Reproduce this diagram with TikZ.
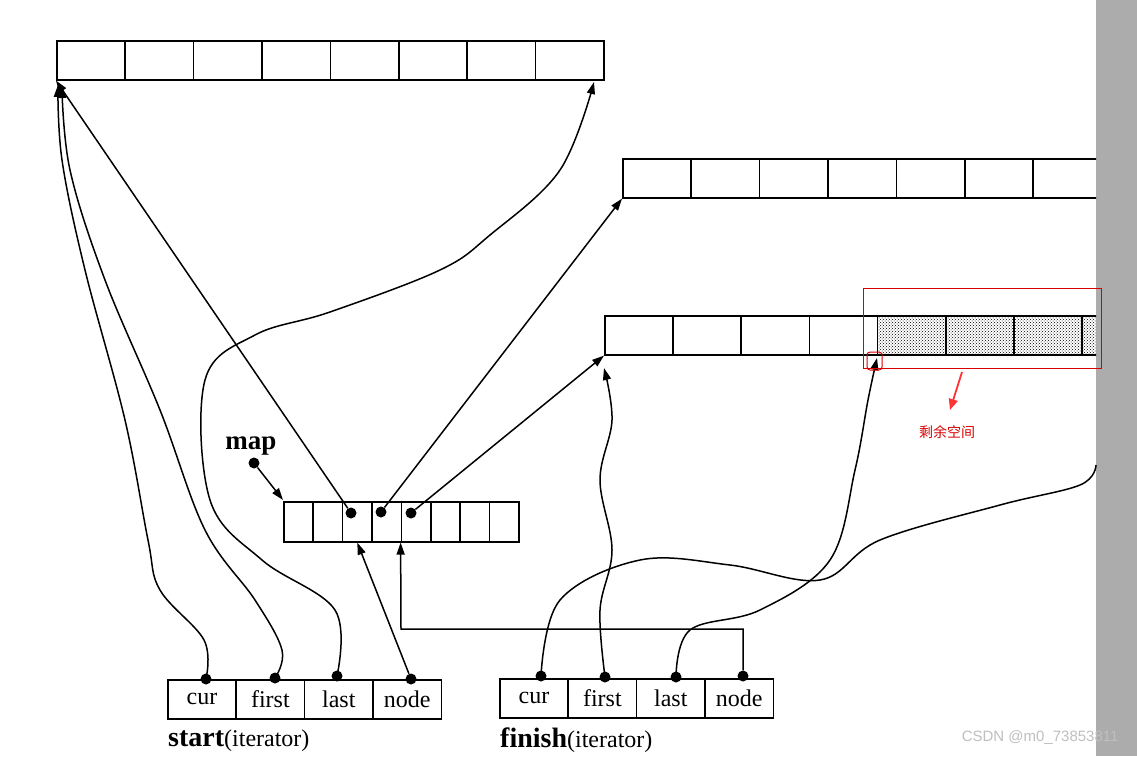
\documentclass[tikz,border=0pt]{standalone}
\usepackage{fontspec}
\setmainfont{Liberation Serif}
\newfontfamily\cjk{Noto Sans CJK SC}
\newfontfamily\sansf{Liberation Sans}
\usetikzlibrary{patterns,arrows.meta}
\begin{document}
\begin{tikzpicture}[x=1pt,y=-1pt,
  cellbox/.style={draw,line width=1.6pt,minimum height=39pt,inner sep=0pt},
  dotn/.style={circle,fill=black,inner sep=0pt,minimum size=11pt},
  conn/.style={line width=1.5pt,-{Triangle[length=12pt,width=8pt]}},
  lbl/.style={font=\fontsize{24}{26}\selectfont}]
\useasboundingbox (0,0) rectangle (1137,756);
\fill[white] (0,0) rectangle (1137,756);
\fill[gray!65] (1096,0) rectangle (1137,756);
% top buffer
\foreach \i in {0,...,7} \node[cellbox,minimum width=68.4pt,anchor=north west] (t\i) at (56+68.4*\i,40) {};
\begin{scope}
\clip (0,0) rectangle (1096,756);
\foreach \i in {0,...,6} \node[cellbox,minimum width=68.4pt,anchor=north west] (s\i) at (622+68.4*\i,158) {};
\foreach \i in {0,...,3} \node[cellbox,minimum width=68.2pt,anchor=north west] (r\i) at (604+68.2*\i,315) {};
\foreach \i in {4,...,7} \node[cellbox,minimum width=68.2pt,anchor=north west,fill=gray!60,pattern=crosshatch dots,pattern color=black] (r\i) at (604+68.2*\i,315) {};
\end{scope}
% map
\foreach \i in {0,...,7} \node[cellbox,minimum width=29.4pt,minimum height=40pt,anchor=north west] (m\i) at (283+29.4*\i,501) {};
\node[dotn] (d3) at (351,513) {};
\node[dotn] (d4) at (381,512) {};
\node[dotn] (d5) at (411,513) {};
\node[font=\bfseries\fontsize{27}{29}\selectfont] (maplbl) at (251,446) {map};
\node[dotn] (mapdot) at (254,463) {};
\draw[conn] (mapdot) -- (283,500);
% iterators
\foreach \n/\t [count=\i from 0] in {sc/cur,sf/first,sl/last,sn/node}
  \node[cellbox,minimum width=68.4pt,anchor=north west,lbl] (\n) at (167+68.4*\i,679) {\t};
\foreach \n/\t [count=\i from 0] in {fc/cur,ff/first,fl/last,fn/node}
  \node[cellbox,minimum width=68.4pt,anchor=north west,lbl] (\n) at (499+68.4*\i,678) {\t};
\node[lbl,anchor=west,inner sep=0pt] (startl) at (168,741) {\textbf{\fontsize{28}{30}\selectfont start}(iterator)};
\node[lbl,anchor=west,inner sep=0pt] (finishl) at (500,740) {\textbf{\fontsize{28}{30}\selectfont finish}(iterator)};
\node[dotn] (scd) at (206,679) {};
\node[dotn] (sfd) at (275,678) {};
\node[dotn] (sld) at (337,676) {};
\node[dotn] (snd) at (411,679) {};
\node[dotn] (fcd) at (541,676) {};
\node[dotn] (ffd) at (605,677) {};
\node[dotn] (fld) at (676,677) {};
\node[dotn] (fnd) at (743,676) {};
% map pointers
\draw[conn] (d3) -- (t0.south west);
\draw[conn] (d4) -- (s0.south west);
\draw[conn] (d5) -- (r0.south west);
\draw[conn] (snd) -- (m2.south);
\draw[conn] (fnd) -- (743,629) -- (401,629) -- (m4.south west);
% wavy pointers
\draw[conn] plot[smooth,tension=0.6] coordinates {(206,679) (204,640) (160,590) (148,540) (125,420) (85,270) (62,160) (58,85)};
\draw[conn] plot[smooth,tension=0.6] coordinates {(275,678) (282,650) (255,600) (205,530) (160,410) (105,280) (70,170) (62,86)};
\draw[conn] plot[smooth,tension=0.6] coordinates {(337,676) (335,610) (262,560) (210,500) (205,380) (255,335) (330,312) (440,270) (490,235) (560,170) (594,82)};
\draw[conn] plot[smooth,tension=0.6] coordinates {(605,677) (600,610) (612,550) (600,480) (612,420) (604,368)};
\draw[conn] plot[smooth,tension=0.6] coordinates {(676,677) (690,630) (760,610) (830,560) (855,470) (868,400) (877,358)};
\draw[line width=1.5pt] plot[smooth,tension=0.6] coordinates {(541,676) (560,600) (640,560) (730,565) (820,580) (880,540) (1000,505) (1080,485) (1096,465)};
% annotation
\draw[red!85!black,line width=1pt] (863,288) rectangle (1101,368);
\draw[red!85!black,line width=1pt,rounded corners=3pt] (867,352) rectangle (882,370);
\draw[red!80,line width=1.8pt,-{Triangle[length=11pt,width=9pt]}] (962,372) -- (950,410);
\node[text=red!85!black,font=\cjk\fontsize{14}{16}\selectfont] (rem) at (947,432) {剩余空间};
\node[text=gray!50!white,font=\sansf\fontsize{15}{17}\selectfont,anchor=east] (wm) at (1122,738) {CSDN @m0\_73853811};
\end{tikzpicture}
\end{document}
